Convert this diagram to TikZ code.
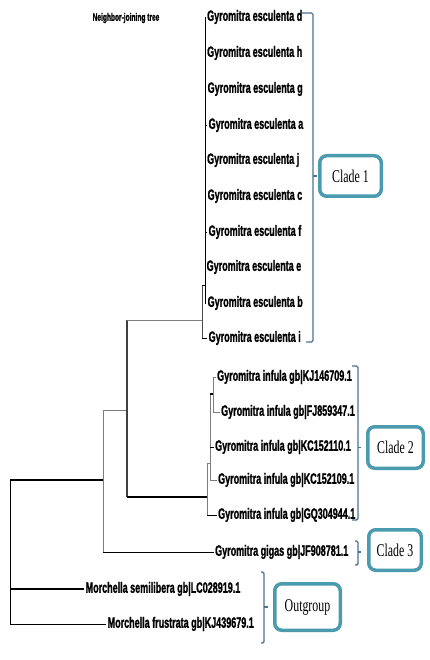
\documentclass[tikz,border=0pt]{standalone}
\usepackage{fontspec}
\newfontfamily\labfont[FakeStretch=0.6,BoldFeatures={FakeStretch=0.6,FakeBold=1.2}]{Liberation Sans}
\newfontfamily\cladefont[FakeStretch=0.66]{Liberation Serif}
\definecolor{brk}{RGB}{78,112,145}
\definecolor{boxc}{RGB}{75,155,175}
\definecolor{gbr}{RGB}{125,125,125}
\tikzset{
  leaf/.style={anchor=west,inner xsep=1.5pt,inner ysep=0pt,font=\labfont\bfseries\fontsize{15}{17}\selectfont},
  thinb/.style={draw=black,line width=0.9pt},
  grayb/.style={draw=gbr,line width=0.9pt},
  thickb/.style={draw=black,line width=2.6pt},
  brack/.style={draw=brk,line width=1.4pt,rounded corners=1.5pt},
  cladebox/.style={draw=boxc,line width=3.5pt,rounded corners=7pt,fill=white,
     font=\cladefont\fontsize{18}{20}\selectfont,inner sep=0pt},
}
\begin{document}
\begin{tikzpicture}[x=1pt,y=-1pt]
\useasboundingbox (0,0) rectangle (429,660);
% title
\node[font=\labfont\bfseries\fontsize{11}{12}\selectfont] (title) at (126,18) {Neighbor-joining tree};
% leaves clade 1
\node[leaf] (d) at (205.5,17) {Gyromitra esculenta d};
\node[leaf] (h) at (205.5,53) {Gyromitra esculenta h};
\node[leaf] (g) at (206,89) {Gyromitra esculenta g};
\node[leaf] (a) at (207,125) {Gyromitra esculenta a};
\node[leaf] (j) at (205.5,160) {Gyromitra esculenta j};
\node[leaf] (c) at (206,196) {Gyromitra esculenta c};
\node[leaf] (f) at (207,232) {Gyromitra esculenta f};
\node[leaf] (e) at (205,267) {Gyromitra esculenta e};
\node[leaf] (b) at (206,303) {Gyromitra esculenta b};
\node[leaf] (i) at (207,338) {Gyromitra esculenta i};
% clade 2
\node[leaf] (kj) at (215.5,377) {Gyromitra infula gb|KJ146709.1};
\node[leaf] (fj) at (219.5,412) {Gyromitra infula gb|FJ859347.1};
\node[leaf] (k110) at (213.5,447) {Gyromitra infula gb|KC152110.1};
\node[leaf] (k109) at (216.5,480) {Gyromitra infula gb|KC152109.1};
\node[leaf] (gq) at (216.5,515) {Gyromitra infula gb|GQ304944.1};
% others
\node[leaf] (gig) at (213.5,552) {Gyromitra gigas gb|JF908781.1};
\node[leaf] (semi) at (84,589) {Morchella semilibera gb|LC028919.1};
\node[leaf] (fru) at (106,624) {Morchella frustrata gb|KJ439679.1};
% internal nodes
\coordinate (rootT) at (10,480);
\coordinate (rootB) at (10,624);
\coordinate (A) at (103,480);
\coordinate (B) at (127,410);
\coordinate (C1) at (202,320);
\coordinate (C1a) at (205,285);
\coordinate (C2) at (207,497);
\coordinate (C2a) at (210,463);
\coordinate (C2b) at (213,394);
% root
\draw[thinb] (rootT) -- (rootB);
\draw[thickb] (rootT) -- (A);
\draw[thickb] (rootT |- semi.west) -- (semi.west);
\draw[thinb] (rootB) -- (fru.west);
% A
\draw[grayb] (A |- B) -- (A |- gig.west);
\draw[grayb] (A |- B) -- (B);
\draw[thinb] (A |- gig.west) -- (gig.west);
% B
\draw[draw=black!75,line width=1.1pt] (B |- C1) -- (B |- C2);
\draw[grayb] (B |- C1) -- (C1);
\draw[thickb] (B |- C2) -- (C2);
% clade 1
\draw[draw=black!70,line width=0.9pt] (C1 |- C1a) -- (C1 |- i.west);
\draw[thinb] (C1 |- C1a) -- (C1a);
\draw[thinb] (C1 |- i.west) -- (i.west);
\draw[thinb] (C1a |- d.west) -- (C1a |- b.west);
\foreach \n in {d,h,g,a,j,c,f,e,b} \draw[thinb] (C1a |- \n.west) -- (\n.west);
% clade 2
\draw[grayb] (C2 |- C2a) -- (C2 |- gq.west);
\draw[grayb] (C2 |- C2a) -- (C2a);
\draw[thinb] (C2 |- gq.west) -- (gq.west);
\draw[grayb] (C2a |- C2b) -- (C2a |- k109.west);
\draw[draw=black,line width=2pt] (C2a |- C2b) -- (C2b);
\draw[thinb] (C2a |- k110.west) -- (k110.west);
\draw[grayb] (C2a |- k109.west) -- (k109.west);
\draw[grayb] (C2b |- kj.west) -- (C2b |- fj.west);
\draw[grayb] (C2b |- kj.west) -- (kj.west);
\draw[grayb] (C2b |- fj.west) -- (fj.west);
% clade boxes
\node[cladebox,minimum width=61.5pt,minimum height=40.5pt] (box1) at (350.5,176) {Clade 1};
\node[cladebox,minimum width=55.5pt,minimum height=41.5pt] (box2) at (395.5,447.5) {Clade 2};
\node[cladebox,minimum width=52.5pt,minimum height=40.5pt] (box3) at (395,550) {Clade 3};
\node[cladebox,minimum width=65.5pt,minimum height=46.5pt] (box4) at (307.5,607) {Outgroup};
% brackets
\coordinate (b1t) at (313,13);
\coordinate (b1b) at (313,342);
\draw[brack] (302,13) -- (b1t) -- (b1b) -- (306,342);
\draw[brk,line width=1.4pt] (b1t |- box1) -- ++(4,0);
\coordinate (b2t) at (358,366);
\coordinate (b2b) at (358,520);
\draw[brack] (352,366) -- (b2t) -- (b2b) -- (352,520);
\draw[brk,line width=1.4pt] (b2t |- box2) -- ++(3,0);
\coordinate (b3t) at (358,541);
\coordinate (b3b) at (358,565);
\draw[brack] (355,541) -- (b3t) -- (b3b) -- (355,565);
\draw[brk,line width=1.4pt] (b3t |- gig.west) -- ++(3,0);
\coordinate (b4t) at (264,572);
\coordinate (b4b) at (264,643);
\draw[brack] (261,572) -- (b4t) -- (b4b) -- (261,643);
\draw[brk,line width=1.4pt] (b4t |- box4) -- ++(4,0);
\end{tikzpicture}
\end{document}
